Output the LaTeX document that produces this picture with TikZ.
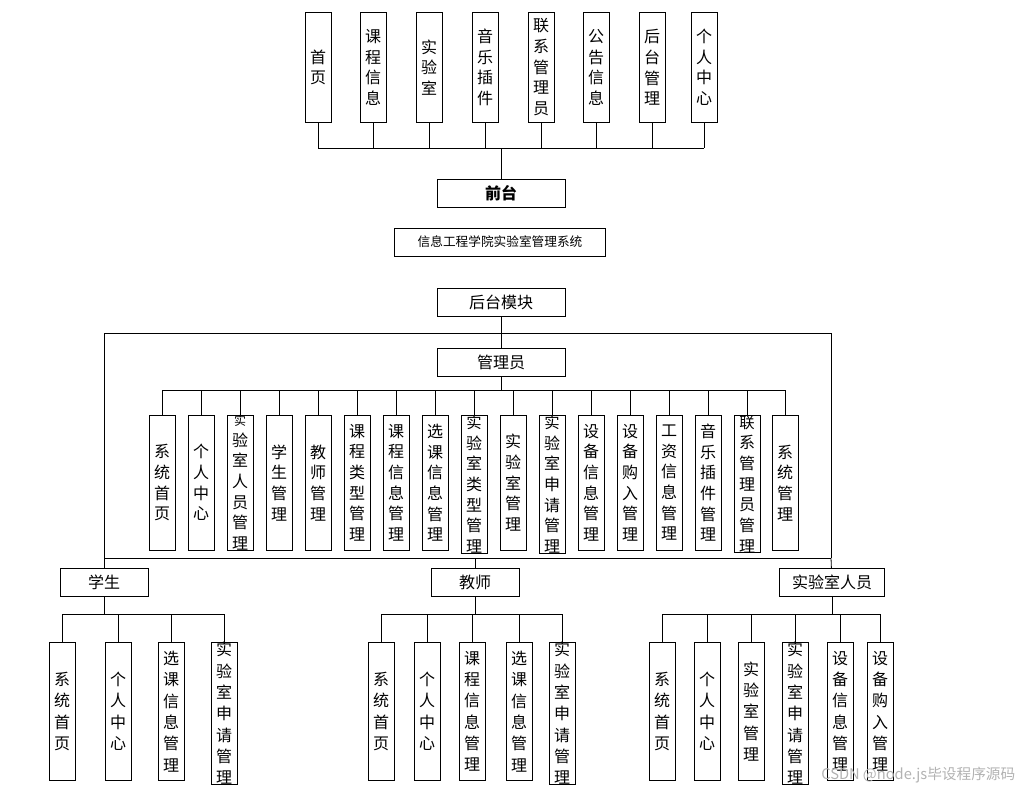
\documentclass[tikz,border=0pt]{standalone}
\usepackage{fontspec}
\setmainfont{Noto Sans CJK SC}
\begin{document}
\begin{tikzpicture}[x=0.75pt,y=-0.75pt,
  box/.style={draw,line width=0.6pt,inner sep=0pt,align=center},
  vbox/.style={box,minimum width=19.5pt,font=\fontsize{12}{15.5}\selectfont},
  hbox/.style={box,minimum height=21pt,font=\fontsize{12}{14}\selectfont},
  ln/.style={line width=0.6pt}]
\useasboundingbox (0,0) rectangle (1032,794);
% top
\foreach \x/\t [count=\i] in {318/首\\页,373/课\\程\\信\\息,429/实\\验\\室,485/音\\乐\\插\\件,541/联\\系\\管\\理\\员,596/公\\告\\信\\息,652/后\\台\\管\\理,704/个\\人\\中\\心}{
  \node[vbox,minimum height=82.5pt,anchor=north] (t\i) at (\x,12) {\t};
  \coordinate (tb\i) at (\x,148);
  \draw[ln] (t\i.south) -- (tb\i);
}
\draw[ln] (tb1) -- (tb8);
\node[hbox,minimum width=96pt,font=\bfseries\fontsize{12}{14}\selectfont] (qt) at (501,193) {前台};
\coordinate (qj) at (501,148);
\draw[ln] (qj) -- (qt);
\node[hbox,minimum width=158pt,font=\fontsize{9.5}{12}\selectfont] (sys) at (500,242) {信息工程学院实验室管理系统};
\node[hbox,minimum width=96pt] (ht) at (501,302) {后台模块};
\coordinate (hj) at (501,333);
\coordinate (hl) at (104,333);
\coordinate (hr) at (831,333);
\coordinate (bl) at (104,558);
\coordinate (br) at (831,558);
\draw[ln] (ht) -- (hj);
\draw[ln] (bl) -- (hl) -- (hr) -- (br);
\draw[ln] (bl) -- (br);
\node[hbox,minimum width=96pt] (gl) at (501,362) {管理员};
\draw[ln] (hj) -- (gl);
\coordinate (gj) at (501,390);
\draw[ln] (gl) -- (gj);
\foreach \x/\t [count=\i] in {162/系\\统\\首\\页,201/个\\人\\中\\心,240/{\fontsize{9}{12.5}\selectfont 实\\验\\室\\人\\员\\管\\理},279/学\\生\\管\\理,318/教\\师\\管\\理,357/课\\程\\类\\型\\管\\理,396/课\\程\\信\\息\\管\\理,435/选\\课\\信\\息\\管\\理,474/{\fontsize{11.5}{13.5}\selectfont 实\\验\\室\\类\\型\\管\\理},513/实\\验\\室\\管\\理,552/{\fontsize{11.5}{13.5}\selectfont 实\\验\\室\\申\\请\\管\\理},591/设\\备\\信\\息\\管\\理,630/设\\备\\购\\入\\管\\理,669/工\\资\\信\\息\\管\\理,708/音\\乐\\插\\件\\管\\理,747/{\fontsize{11.5}{13.5}\selectfont 联\\系\\管\\理\\员\\管\\理},785/系\\统\\管\\理}{
  \node[vbox,minimum height=101pt,anchor=north] (a\i) at (\x,415) {\t};
  \coordinate (ab\i) at (\x,390);
  \draw[ln] (a\i.north) -- (ab\i);
}
\draw[ln] (ab1) -- (ab17);
% three roles
\node[hbox,minimum width=66pt,anchor=north] (xs) at (104,568) {学生};
\node[hbox,minimum width=66pt,anchor=north] (js) at (475,568) {教师};
\node[hbox,minimum width=79pt,anchor=north] (sy) at (832,568) {实验室人员};
\coordinate (jt) at (475,558);
\draw[ln] (bl) -- (xs);
\draw[ln] (jt) -- (js);
\draw[ln] (br) -- (sy);
\coordinate (xj) at (104,614);
\coordinate (jj) at (475,614);
\coordinate (sj) at (832,614);
\draw[ln] (xs) -- (xj);
\draw[ln] (js) -- (jj);
\draw[ln] (sy) -- (sj);
\foreach \g/\lst in {s/{62/系\\统\\首\\页,118/个\\人\\中\\心,171/选\\课\\信\\息\\管\\理,224/实\\验\\室\\申\\请\\管\\理},
                      j/{381/系\\统\\首\\页,427/个\\人\\中\\心,472/课\\程\\信\\息\\管\\理,519/选\\课\\信\\息\\管\\理,562/实\\验\\室\\申\\请\\管\\理},
                      l/{662/系\\统\\首\\页,707/个\\人\\中\\心,751/实\\验\\室\\管\\理,795/实\\验\\室\\申\\请\\管\\理,840/设\\备\\信\\息\\管\\理,880/设\\备\\购\\入\\管\\理}}{
  \foreach \x/\t [count=\i] in \lst {
    \node[vbox,minimum height=103.5pt,anchor=north,font=\fontsize{12}{16}\selectfont] (\g c\i) at (\x,642) {\t};
    \coordinate (\g b\i) at (\x,614);
    \draw[ln] (\g c\i.north) -- (\g b\i);
  }
}
\draw[ln] (sb1) -- (sb4);
\draw[ln] (jb1) -- (jb5);
\draw[ln] (lb1) -- (lb6);
\node[text=gray!60,font=\fontsize{11}{13}\selectfont,anchor=east] (wm) at (1020,775) {CSDN @node.js毕设程序源码};
\end{tikzpicture}
\end{document}
